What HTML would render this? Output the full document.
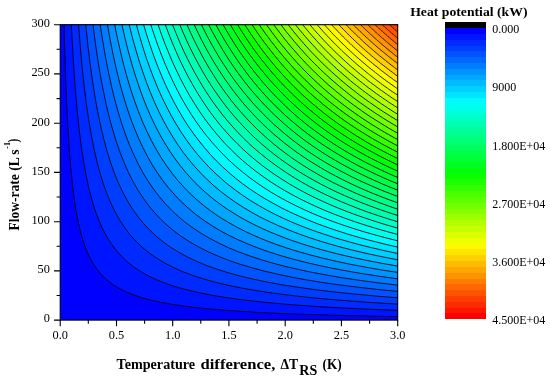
<!DOCTYPE html>
<html lang="en"><head><meta charset="utf-8"><title>Heat potential contour</title>
<style>html,body{margin:0;padding:0;background:#fff}svg{display:block}text{font-family:"Liberation Serif",serif;fill:#000}.b{font-weight:bold;fill:#000}</style></head><body>
<svg width="550" height="382" viewBox="0 0 550 382">
<rect width="550" height="382" fill="#fff"/>
<rect x="60.2" y="24.7" width="337.5" height="295.4" fill="#0000ff"/>
<g stroke="none">
<path d="M64.1,24.7 64.9,55.0 65.8,82.2 66.8,106.6 68.0,128.6 69.2,148.4 70.6,166.1 72.2,182.0 73.9,196.3 75.8,209.2 78.0,220.8 80.3,231.1 83.0,240.5 85.9,248.9 89.2,256.4 92.9,263.2 96.9,269.2 101.5,274.7 106.5,279.6 112.1,284.0 118.4,288.0 125.3,291.5 133.0,294.7 141.6,297.6 151.2,300.2 161.9,302.5 173.7,304.6 186.9,306.5 201.6,308.2 218.0,309.7 236.2,311.0 256.4,312.3 279.0,313.4 304.1,314.3 332.0,315.2 363.1,316.0 397.7,316.7 397.7,24.7 Z" fill="#0015ff"/>
<path d="M71.3,24.7 72.7,49.8 74.1,72.7 75.7,93.8 77.4,113.0 79.3,130.7 81.4,146.9 83.6,161.7 86.1,175.2 88.7,187.7 91.7,199.0 94.8,209.5 98.3,219.0 102.1,227.8 106.3,235.8 110.8,243.1 115.8,249.8 121.2,256.0 127.1,261.6 133.5,266.8 140.5,271.5 148.2,275.8 156.6,279.8 165.7,283.4 175.7,286.8 186.6,289.8 198.6,292.6 211.5,295.2 225.7,297.5 241.2,299.7 258.1,301.6 276.6,303.4 296.8,305.1 318.8,306.6 342.8,308.0 369.1,309.2 397.7,310.4 397.7,24.7 Z" fill="#002aff"/>
<path d="M78.6,24.7 80.3,46.7 82.1,67.0 84.2,85.9 86.3,103.4 88.7,119.6 91.2,134.5 93.9,148.4 96.9,161.3 100.1,173.2 103.5,184.3 107.2,194.5 111.2,203.9 115.5,212.7 120.2,220.9 125.2,228.4 130.6,235.4 136.5,241.8 142.8,247.8 149.7,253.3 157.1,258.5 165.0,263.2 173.6,267.6 182.9,271.7 192.9,275.5 203.8,279.0 215.4,282.3 228.1,285.3 241.7,288.0 256.4,290.6 272.2,293.0 289.3,295.2 307.8,297.3 327.8,299.2 349.3,300.9 372.6,302.6 397.7,304.1 397.7,24.7 Z" fill="#003eff"/>
<path d="M85.8,24.7 87.8,44.5 90.0,62.9 92.4,80.1 94.9,96.2 97.6,111.3 100.5,125.3 103.6,138.4 106.9,150.6 110.4,162.0 114.2,172.7 118.3,182.7 122.7,192.0 127.3,200.6 132.3,208.8 137.7,216.3 143.4,223.4 149.6,230.0 156.1,236.2 163.2,241.9 170.7,247.3 178.8,252.3 187.5,257.0 196.7,261.4 206.6,265.5 217.3,269.3 228.6,272.8 240.8,276.2 253.9,279.3 267.8,282.2 282.8,284.9 298.8,287.4 316.0,289.8 334.4,292.0 354.0,294.0 375.1,296.0 397.7,297.8 397.7,24.7 Z" fill="#0053ff"/>
<path d="M93.0,24.7 95.3,42.7 97.8,59.7 100.4,75.6 103.3,90.5 106.2,104.6 109.4,117.8 112.8,130.2 116.4,141.8 120.2,152.8 124.3,163.1 128.6,172.8 133.2,181.8 138.1,190.4 143.4,198.4 148.9,205.9 154.9,213.0 161.2,219.7 167.9,225.9 175.0,231.8 182.6,237.3 190.7,242.5 199.3,247.3 208.4,251.9 218.2,256.2 228.6,260.3 239.6,264.1 251.4,267.6 263.9,271.0 277.2,274.1 291.4,277.1 306.4,279.9 322.5,282.5 339.6,284.9 357.8,287.2 377.1,289.4 397.7,291.4 397.7,24.7 Z" fill="#0068ff"/>
<path d="M100.2,24.7 102.8,41.3 105.5,57.0 108.4,71.8 111.4,85.8 114.6,99.0 118.0,111.5 121.6,123.2 125.4,134.4 129.5,144.9 133.8,154.8 138.3,164.1 143.1,173.0 148.2,181.3 153.6,189.2 159.3,196.7 165.3,203.7 171.7,210.4 178.5,216.6 185.6,222.6 193.2,228.1 201.2,233.4 209.8,238.4 218.8,243.1 228.3,247.6 238.4,251.8 249.1,255.7 260.4,259.5 272.4,263.0 285.1,266.4 298.6,269.5 312.8,272.5 327.9,275.3 343.9,278.0 360.8,280.5 378.7,282.9 397.7,285.1 397.7,24.7 Z" fill="#007dff"/>
<path d="M107.5,24.7 110.2,40.1 113.1,54.7 116.2,68.5 119.4,81.7 122.8,94.1 126.4,106.0 130.2,117.2 134.2,127.8 138.4,137.9 142.8,147.4 147.5,156.5 152.4,165.1 157.6,173.2 163.1,181.0 168.9,188.3 175.0,195.2 181.4,201.8 188.2,208.1 195.3,214.0 202.9,219.7 210.8,225.0 219.2,230.1 228.0,234.9 237.3,239.4 247.2,243.7 257.5,247.8 268.4,251.7 279.9,255.4 292.1,258.9 304.9,262.2 318.4,265.3 332.6,268.3 347.6,271.1 363.4,273.8 380.1,276.4 397.7,278.8 397.7,24.7 Z" fill="#0092ff"/>
<path d="M114.7,24.7 117.6,39.0 120.7,52.7 123.9,65.7 127.3,78.1 130.9,89.9 134.6,101.1 138.5,111.7 142.6,121.9 147.0,131.6 151.5,140.8 156.3,149.5 161.3,157.9 166.6,165.8 172.2,173.4 178.0,180.6 184.1,187.4 190.5,194.0 197.3,200.2 204.4,206.1 211.8,211.7 219.6,217.1 227.9,222.1 236.5,227.0 245.6,231.6 255.1,236.0 265.1,240.2 275.6,244.2 286.7,248.0 298.3,251.6 310.5,255.0 323.3,258.3 336.7,261.4 350.9,264.4 365.7,267.2 381.3,269.9 397.7,272.4 397.7,24.7 Z" fill="#00a7ff"/>
<path d="M121.9,24.7 125.0,38.1 128.2,50.9 131.6,63.2 135.1,74.8 138.8,86.0 142.6,96.7 146.6,106.8 150.9,116.6 155.3,125.8 159.9,134.7 164.8,143.2 169.9,151.3 175.2,159.0 180.8,166.4 186.6,173.4 192.7,180.1 199.1,186.6 205.8,192.7 212.8,198.6 220.1,204.2 227.8,209.5 235.9,214.6 244.3,219.5 253.1,224.1 262.4,228.6 272.0,232.8 282.2,236.9 292.8,240.8 303.9,244.5 315.5,248.0 327.7,251.4 340.4,254.6 353.8,257.7 367.7,260.6 382.4,263.4 397.7,266.1 397.7,24.7 Z" fill="#00bbff"/>
<path d="M129.2,24.7 132.3,37.3 135.7,49.3 139.1,60.9 142.8,71.9 146.5,82.5 150.5,92.7 154.6,102.4 158.9,111.7 163.4,120.6 168.1,129.1 173.0,137.3 178.1,145.1 183.4,152.6 189.0,159.8 194.8,166.7 200.9,173.3 207.2,179.6 213.8,185.7 220.7,191.4 228.0,197.0 235.5,202.3 243.4,207.4 251.6,212.3 260.1,217.0 269.1,221.4 278.4,225.7 288.2,229.8 298.3,233.7 309.0,237.5 320.1,241.1 331.7,244.6 343.8,247.9 356.4,251.1 369.6,254.1 383.3,257.0 397.7,259.8 397.7,24.7 Z" fill="#00d0ff"/>
<path d="M136.4,24.7 139.7,36.5 143.1,47.9 146.6,58.8 150.3,69.2 154.2,79.3 158.2,89.0 162.4,98.2 166.8,107.1 171.3,115.7 176.0,123.9 180.9,131.8 186.0,139.4 191.4,146.7 196.9,153.7 202.7,160.4 208.7,166.8 215.0,173.0 221.5,178.9 228.3,184.7 235.4,190.1 242.7,195.4 250.4,200.5 258.4,205.3 266.7,210.0 275.3,214.5 284.4,218.8 293.7,222.9 303.5,226.9 313.7,230.7 324.3,234.3 335.3,237.9 346.8,241.2 358.8,244.5 371.2,247.6 384.2,250.6 397.7,253.5 397.7,24.7 Z" fill="#00e5ff"/>
<path d="M143.6,24.7 147.0,35.8 150.5,46.5 154.1,56.9 157.9,66.8 161.8,76.3 165.8,85.5 170.1,94.4 174.4,102.9 179.0,111.1 183.7,119.0 188.6,126.7 193.8,134.0 199.1,141.0 204.6,147.8 210.3,154.4 216.2,160.7 222.4,166.7 228.8,172.5 235.5,178.2 242.4,183.6 249.6,188.8 257.1,193.8 264.8,198.6 272.9,203.2 281.2,207.7 289.9,212.0 299.0,216.1 308.3,220.1 318.1,224.0 328.2,227.7 338.7,231.2 349.6,234.7 361.0,238.0 372.8,241.1 385.0,244.2 397.7,247.1 397.7,24.7 Z" fill="#00faff"/>
<path d="M150.8,24.7 154.3,35.2 157.8,45.3 161.5,55.1 165.3,64.5 169.3,73.6 173.4,82.4 177.6,90.8 182.0,99.0 186.6,106.9 191.3,114.5 196.2,121.8 201.3,128.9 206.5,135.7 212.0,142.3 217.6,148.6 223.5,154.8 229.5,160.7 235.8,166.4 242.4,171.9 249.1,177.2 256.1,182.3 263.4,187.3 270.9,192.1 278.7,196.7 286.8,201.1 295.2,205.4 303.8,209.5 312.8,213.5 322.2,217.4 331.8,221.1 341.9,224.7 352.2,228.1 363.0,231.5 374.2,234.7 385.7,237.8 397.7,240.8 397.7,24.7 Z" fill="#00ffef"/>
<path d="M158.1,24.7 161.5,34.6 165.1,44.2 168.9,53.4 172.7,62.4 176.7,71.0 180.8,79.4 185.0,87.4 189.4,95.3 194.0,102.8 198.7,110.1 203.5,117.2 208.6,124.0 213.8,130.6 219.2,137.0 224.7,143.2 230.5,149.1 236.4,154.9 242.6,160.5 249.0,165.9 255.6,171.1 262.4,176.1 269.4,181.0 276.7,185.7 284.3,190.3 292.1,194.7 300.1,198.9 308.5,203.0 317.1,207.0 326.0,210.9 335.3,214.6 344.8,218.2 354.7,221.7 364.9,225.0 375.5,228.3 386.4,231.4 397.7,234.5 397.7,24.7 Z" fill="#00ffdb"/>
<path d="M165.3,24.7 168.8,34.0 172.4,43.1 176.2,51.9 180.0,60.4 184.0,68.6 188.1,76.5 192.4,84.3 196.7,91.7 201.3,99.0 205.9,106.0 210.7,112.8 215.7,119.4 220.8,125.8 226.1,131.9 231.6,137.9 237.3,143.7 243.1,149.3 249.1,154.8 255.3,160.0 261.7,165.1 268.4,170.1 275.2,174.9 282.3,179.5 289.5,184.0 297.1,188.4 304.8,192.6 312.8,196.7 321.1,200.6 329.7,204.5 338.5,208.2 347.6,211.8 357.0,215.3 366.7,218.6 376.7,221.9 387.0,225.1 397.7,228.1 397.7,24.7 Z" fill="#00ffc6"/>
<path d="M172.5,24.7 176.1,33.5 179.7,42.1 183.4,50.4 187.3,58.5 191.3,66.3 195.4,73.9 199.6,81.2 203.9,88.4 208.4,95.3 213.0,102.1 217.8,108.6 222.7,115.0 227.7,121.1 233.0,127.1 238.3,132.9 243.8,138.5 249.5,144.0 255.4,149.3 261.5,154.4 267.7,159.4 274.1,164.2 280.8,168.9 287.6,173.5 294.6,177.9 301.8,182.2 309.3,186.4 317.0,190.4 324.9,194.3 333.1,198.1 341.5,201.8 350.2,205.4 359.1,208.9 368.3,212.3 377.8,215.5 387.6,218.7 397.7,221.8 397.7,24.7 Z" fill="#00ffb1"/>
<path d="M179.8,24.7 183.3,33.0 186.9,41.1 190.7,49.0 194.5,56.7 198.5,64.1 202.5,71.3 206.7,78.4 211.0,85.2 215.5,91.9 220.0,98.3 224.7,104.6 229.5,110.7 234.5,116.6 239.6,122.4 244.9,128.0 250.3,133.5 255.8,138.8 261.5,143.9 267.4,148.9 273.5,153.8 279.7,158.5 286.1,163.1 292.7,167.6 299.5,171.9 306.4,176.1 313.6,180.2 321.0,184.2 328.6,188.1 336.4,191.9 344.4,195.5 352.7,199.1 361.2,202.6 369.9,205.9 378.9,209.2 388.2,212.4 397.7,215.5 397.7,24.7 Z" fill="#00ff9c"/>
<path d="M187.0,24.7 190.5,32.6 194.1,40.2 197.9,47.7 201.7,55.0 205.6,62.0 209.6,68.9 213.8,75.6 218.0,82.2 222.4,88.5 226.9,94.7 231.5,100.8 236.2,106.6 241.1,112.3 246.1,117.9 251.2,123.3 256.5,128.6 261.9,133.7 267.5,138.7 273.2,143.6 279.0,148.3 285.1,152.9 291.2,157.4 297.6,161.8 304.1,166.0 310.8,170.2 317.7,174.2 324.8,178.2 332.0,182.0 339.5,185.7 347.2,189.3 355.0,192.9 363.1,196.3 371.4,199.6 379.9,202.9 388.7,206.1 397.7,209.2 397.7,24.7 Z" fill="#00ff87"/>
<path d="M194.2,24.7 197.7,32.1 201.3,39.4 205.0,46.5 208.8,53.4 212.7,60.1 216.7,66.6 220.8,73.0 225.0,79.3 229.3,85.3 233.7,91.3 238.2,97.0 242.8,102.7 247.6,108.2 252.5,113.5 257.5,118.8 262.6,123.9 267.8,128.8 273.2,133.7 278.8,138.4 284.4,143.0 290.3,147.5 296.2,151.9 302.3,156.1 308.6,160.3 315.1,164.3 321.7,168.3 328.4,172.2 335.4,175.9 342.5,179.6 349.8,183.2 357.3,186.7 365.0,190.1 372.8,193.4 380.9,196.6 389.2,199.8 397.7,202.8 397.7,24.7 Z" fill="#00ff72"/>
<path d="M201.4,24.7 204.9,31.7 208.5,38.6 212.2,45.3 215.9,51.8 219.7,58.2 223.7,64.4 227.7,70.5 231.8,76.5 236.0,82.3 240.3,87.9 244.8,93.5 249.3,98.9 253.9,104.2 258.7,109.3 263.5,114.3 268.5,119.3 273.6,124.1 278.9,128.7 284.2,133.3 289.7,137.8 295.3,142.1 301.0,146.4 306.9,150.6 313.0,154.6 319.1,158.6 325.5,162.5 331.9,166.2 338.6,169.9 345.4,173.5 352.3,177.1 359.4,180.5 366.7,183.8 374.2,187.1 381.8,190.3 389.7,193.4 397.7,196.5 397.7,24.7 Z" fill="#00ff5e"/>
<path d="M208.7,24.7 212.1,31.3 215.7,37.8 219.3,44.1 223.0,50.3 226.7,56.4 230.6,62.3 234.5,68.1 238.6,73.8 242.7,79.3 246.9,84.7 251.2,90.0 255.7,95.2 260.2,100.3 264.8,105.2 269.5,110.1 274.3,114.8 279.3,119.4 284.3,123.9 289.5,128.4 294.8,132.7 300.2,136.9 305.7,141.1 311.4,145.1 317.2,149.1 323.1,152.9 329.1,156.7 335.3,160.4 341.6,164.0 348.1,167.5 354.7,171.0 361.5,174.4 368.4,177.7 375.5,180.9 382.7,184.1 390.1,187.2 397.7,190.2 397.7,24.7 Z" fill="#00ff49"/>
<path d="M215.9,24.7 219.3,31.0 222.8,37.1 226.3,43.1 230.0,48.9 233.7,54.7 237.5,60.3 241.3,65.8 245.3,71.2 249.3,76.5 253.4,81.6 257.6,86.7 261.9,91.6 266.3,96.5 270.8,101.2 275.4,105.9 280.0,110.4 284.8,114.9 289.7,119.3 294.7,123.5 299.8,127.7 305.0,131.8 310.3,135.8 315.7,139.7 321.2,143.6 326.9,147.3 332.7,151.0 338.6,154.6 344.6,158.1 350.7,161.6 357.0,165.0 363.5,168.3 370.0,171.5 376.7,174.7 383.6,177.8 390.6,180.9 397.7,183.8 397.7,24.7 Z" fill="#00ff34"/>
<path d="M223.1,24.7 226.5,30.6 229.9,36.4 233.4,42.0 236.9,47.6 240.6,53.0 244.3,58.3 248.0,63.6 251.9,68.7 255.8,73.7 259.8,78.6 263.9,83.5 268.1,88.2 272.3,92.8 276.7,97.4 281.1,101.8 285.6,106.2 290.2,110.5 294.9,114.7 299.7,118.8 304.6,122.8 309.6,126.8 314.7,130.6 319.9,134.4 325.2,138.2 330.6,141.8 336.1,145.4 341.7,148.9 347.4,152.3 353.3,155.7 359.3,159.0 365.4,162.3 371.6,165.4 377.9,168.5 384.4,171.6 391.0,174.6 397.7,177.5 397.7,24.7 Z" fill="#00ff1f"/>
<path d="M230.4,24.7 233.6,30.2 237.0,35.7 240.4,41.0 243.9,46.3 247.4,51.4 251.0,56.5 254.7,61.4 258.5,66.3 262.3,71.0 266.2,75.7 270.1,80.3 274.2,84.8 278.3,89.3 282.5,93.6 286.7,97.9 291.1,102.1 295.5,106.2 300.0,110.2 304.6,114.1 309.3,118.0 314.1,121.8 319.0,125.6 323.9,129.2 329.0,132.8 334.2,136.4 339.4,139.9 344.8,143.3 350.2,146.6 355.8,149.9 361.4,153.1 367.2,156.3 373.1,159.4 379.1,162.4 385.2,165.4 391.4,168.3 397.7,171.2 397.7,24.7 Z" fill="#00ff0a"/>
<path d="M237.6,24.7 240.8,29.9 244.1,35.0 247.4,40.1 250.8,45.0 254.2,49.9 257.7,54.6 261.3,59.3 265.0,63.9 268.7,68.5 272.4,72.9 276.3,77.3 280.2,81.6 284.1,85.8 288.2,89.9 292.3,94.0 296.5,98.0 300.7,101.9 305.1,105.8 309.5,109.6 314.0,113.3 318.5,117.0 323.2,120.6 327.9,124.1 332.7,127.6 337.6,131.0 342.6,134.4 347.7,137.7 352.9,140.9 358.1,144.1 363.5,147.2 369.0,150.3 374.5,153.3 380.1,156.3 385.9,159.2 391.7,162.0 397.7,164.9 397.7,24.7 Z" fill="#0aff00"/>
<path d="M244.8,24.7 248.0,29.6 251.1,34.4 254.4,39.1 257.7,43.8 261.0,48.4 264.4,52.9 267.9,57.3 271.4,61.7 275.0,66.0 278.6,70.2 282.3,74.3 286.1,78.4 289.9,82.4 293.8,86.4 297.7,90.2 301.7,94.1 305.8,97.8 310.0,101.5 314.2,105.1 318.5,108.7 322.8,112.2 327.3,115.7 331.8,119.1 336.4,122.4 341.0,125.7 345.8,128.9 350.6,132.1 355.5,135.3 360.5,138.3 365.5,141.4 370.7,144.4 375.9,147.3 381.2,150.2 386.6,153.0 392.1,155.8 397.7,158.5 397.7,24.7 Z" fill="#1fff00"/>
<path d="M252.1,24.7 255.1,29.3 258.2,33.8 261.3,38.2 264.5,42.6 267.8,46.9 271.1,51.2 274.4,55.3 277.8,59.5 281.2,63.5 284.7,67.5 288.3,71.4 291.9,75.3 295.6,79.1 299.3,82.9 303.1,86.5 306.9,90.2 310.8,93.8 314.8,97.3 318.8,100.7 322.9,104.2 327.1,107.5 331.3,110.8 335.6,114.1 339.9,117.3 344.3,120.5 348.8,123.6 353.4,126.7 358.0,129.7 362.7,132.6 367.5,135.6 372.3,138.4 377.2,141.3 382.2,144.1 387.3,146.8 392.5,149.5 397.7,152.2 397.7,24.7 Z" fill="#34ff00"/>
<path d="M259.3,24.7 262.2,29.0 265.2,33.2 268.3,37.4 271.3,41.5 274.5,45.5 277.6,49.5 280.9,53.5 284.1,57.3 287.4,61.1 290.8,64.9 294.2,68.6 297.7,72.3 301.2,75.9 304.7,79.4 308.4,82.9 312.0,86.4 315.7,89.8 319.5,93.1 323.4,96.4 327.2,99.7 331.2,102.9 335.2,106.1 339.2,109.2 343.4,112.3 347.5,115.3 351.8,118.3 356.1,121.2 360.4,124.1 364.9,127.0 369.3,129.8 373.9,132.6 378.5,135.3 383.2,138.0 388.0,140.7 392.8,143.3 397.7,145.9 397.7,24.7 Z" fill="#49ff00"/>
<path d="M266.5,24.7 269.4,28.7 272.2,32.6 275.2,36.5 278.1,40.4 281.1,44.2 284.2,47.9 287.3,51.6 290.4,55.2 293.6,58.8 296.8,62.4 300.1,65.9 303.4,69.3 306.7,72.7 310.1,76.1 313.6,79.4 317.1,82.7 320.6,85.9 324.2,89.1 327.8,92.2 331.5,95.3 335.2,98.4 339.0,101.4 342.8,104.3 346.7,107.3 350.7,110.2 354.7,113.0 358.7,115.8 362.8,118.6 367.0,121.4 371.2,124.1 375.5,126.7 379.8,129.4 384.2,132.0 388.6,134.5 393.1,137.1 397.7,139.5 397.7,24.7 Z" fill="#5eff00"/>
<path d="M273.7,24.7 276.5,28.4 279.3,32.1 282.1,35.7 284.9,39.3 287.8,42.9 290.7,46.4 293.7,49.8 296.7,53.2 299.7,56.6 302.8,59.9 305.9,63.2 309.0,66.4 312.2,69.6 315.4,72.8 318.7,75.9 322.0,79.0 325.4,82.1 328.7,85.1 332.2,88.0 335.7,91.0 339.2,93.9 342.7,96.7 346.4,99.6 350.0,102.3 353.7,105.1 357.5,107.8 361.3,110.5 365.1,113.2 369.0,115.8 373.0,118.4 377.0,120.9 381.0,123.4 385.1,125.9 389.2,128.4 393.4,130.8 397.7,133.2 397.7,24.7 Z" fill="#72ff00"/>
<path d="M281.0,24.7 283.6,28.2 286.2,31.6 288.9,34.9 291.7,38.3 294.4,41.6 297.2,44.8 300.0,48.1 302.9,51.2 305.7,54.4 308.6,57.5 311.6,60.6 314.6,63.6 317.6,66.6 320.7,69.6 323.7,72.5 326.9,75.4 330.0,78.3 333.2,81.1 336.5,83.9 339.8,86.7 343.1,89.4 346.4,92.1 349.8,94.8 353.2,97.5 356.7,100.1 360.2,102.7 363.8,105.2 367.4,107.7 371.0,110.2 374.7,112.7 378.4,115.1 382.2,117.5 386.0,119.9 389.9,122.3 393.8,124.6 397.7,126.9 397.7,24.7 Z" fill="#87ff00"/>
<path d="M288.2,24.7 290.7,27.9 293.2,31.1 295.8,34.2 298.4,37.3 301.0,40.3 303.6,43.4 306.3,46.4 309.0,49.3 311.7,52.3 314.5,55.2 317.3,58.0 320.1,60.9 322.9,63.7 325.8,66.4 328.7,69.2 331.7,71.9 334.7,74.6 337.7,77.3 340.7,79.9 343.8,82.5 346.9,85.1 350.0,87.6 353.2,90.1 356.4,92.6 359.6,95.1 362.9,97.5 366.2,100.0 369.6,102.3 373.0,104.7 376.4,107.0 379.8,109.4 383.3,111.7 386.9,113.9 390.4,116.2 394.1,118.4 397.7,120.6 397.7,24.7 Z" fill="#9cff00"/>
<path d="M295.4,24.7 297.8,27.6 300.2,30.6 302.6,33.4 305.1,36.3 307.5,39.1 310.0,41.9 312.6,44.7 315.1,47.4 317.7,50.2 320.3,52.9 322.9,55.5 325.6,58.2 328.2,60.8 330.9,63.4 333.7,65.9 336.4,68.5 339.2,71.0 342.0,73.4 344.9,75.9 347.7,78.3 350.6,80.8 353.5,83.2 356.5,85.5 359.5,87.9 362.5,90.2 365.5,92.5 368.6,94.7 371.7,97.0 374.9,99.2 378.0,101.4 381.2,103.6 384.5,105.8 387.7,107.9 391.0,110.1 394.3,112.2 397.7,114.2 397.7,24.7 Z" fill="#b1ff00"/>
<path d="M302.7,24.7 304.9,27.4 307.2,30.1 309.4,32.7 311.7,35.3 314.1,37.9 316.4,40.5 318.8,43.1 321.2,45.6 323.6,48.1 326.0,50.6 328.5,53.1 331.0,55.5 333.5,57.9 336.0,60.3 338.5,62.7 341.1,65.1 343.7,67.4 346.3,69.7 348.9,72.0 351.6,74.3 354.3,76.5 357.0,78.7 359.7,80.9 362.5,83.1 365.3,85.3 368.1,87.5 371.0,89.6 373.8,91.7 376.7,93.8 379.6,95.9 382.6,97.9 385.5,99.9 388.5,102.0 391.6,104.0 394.6,105.9 397.7,107.9 397.7,24.7 Z" fill="#c6ff00"/>
<path d="M309.9,24.7 312.0,27.2 314.1,29.6 316.2,32.0 318.4,34.4 320.6,36.8 322.8,39.2 325.0,41.5 327.2,43.8 329.4,46.1 331.7,48.4 334.0,50.7 336.3,52.9 338.6,55.1 341.0,57.3 343.3,59.5 345.7,61.7 348.1,63.9 350.5,66.0 353.0,68.1 355.4,70.2 357.9,72.3 360.4,74.4 362.9,76.4 365.5,78.4 368.0,80.5 370.6,82.5 373.2,84.4 375.9,86.4 378.5,88.4 381.2,90.3 383.9,92.2 386.6,94.1 389.3,96.0 392.1,97.9 394.9,99.7 397.7,101.6 397.7,24.7 Z" fill="#dbff00"/>
<path d="M317.1,24.7 319.1,26.9 321.0,29.1 323.0,31.3 325.0,33.5 327.0,35.7 329.1,37.8 331.1,39.9 333.2,42.1 335.3,44.2 337.4,46.2 339.5,48.3 341.6,50.4 343.7,52.4 345.9,54.4 348.1,56.4 350.3,58.4 352.5,60.4 354.7,62.3 356.9,64.3 359.2,66.2 361.5,68.1 363.8,70.0 366.1,71.9 368.4,73.8 370.7,75.7 373.1,77.5 375.5,79.4 377.9,81.2 380.3,83.0 382.7,84.8 385.2,86.6 387.6,88.3 390.1,90.1 392.6,91.8 395.2,93.5 397.7,95.2 397.7,24.7 Z" fill="#efff00"/>
<path d="M324.3,24.7 326.1,26.7 328.0,28.7 329.8,30.7 331.6,32.6 333.5,34.6 335.4,36.5 337.2,38.4 339.1,40.3 341.0,42.2 343.0,44.1 344.9,46.0 346.8,47.9 348.8,49.7 350.8,51.5 352.8,53.4 354.8,55.2 356.8,57.0 358.8,58.8 360.8,60.5 362.9,62.3 365.0,64.0 367.0,65.8 369.1,67.5 371.2,69.2 373.4,70.9 375.5,72.6 377.7,74.3 379.8,76.0 382.0,77.6 384.2,79.3 386.4,80.9 388.6,82.5 390.9,84.1 393.1,85.7 395.4,87.3 397.7,88.9 397.7,24.7 Z" fill="#fffa00"/>
<path d="M331.6,24.7 333.2,26.5 334.9,28.3 336.6,30.0 338.2,31.8 339.9,33.5 341.6,35.2 343.3,37.0 345.1,38.7 346.8,40.4 348.5,42.1 350.3,43.7 352.0,45.4 353.8,47.1 355.6,48.7 357.4,50.3 359.2,52.0 361.0,53.6 362.9,55.2 364.7,56.8 366.5,58.4 368.4,60.0 370.3,61.5 372.2,63.1 374.1,64.7 376.0,66.2 377.9,67.7 379.8,69.3 381.7,70.8 383.7,72.3 385.7,73.8 387.6,75.3 389.6,76.8 391.6,78.2 393.6,79.7 395.7,81.1 397.7,82.6 397.7,24.7 Z" fill="#ffe500"/>
<path d="M338.8,24.7 340.3,26.3 341.8,27.8 343.3,29.4 344.8,30.9 346.3,32.5 347.9,34.0 349.4,35.5 350.9,37.0 352.5,38.5 354.1,40.0 355.6,41.5 357.2,43.0 358.8,44.5 360.4,45.9 362.0,47.4 363.6,48.8 365.2,50.3 366.9,51.7 368.5,53.1 370.1,54.5 371.8,56.0 373.5,57.4 375.1,58.8 376.8,60.2 378.5,61.5 380.2,62.9 381.9,64.3 383.6,65.6 385.4,67.0 387.1,68.3 388.8,69.7 390.6,71.0 392.4,72.3 394.1,73.6 395.9,75.0 397.7,76.3 397.7,24.7 Z" fill="#ffd000"/>
<path d="M346.0,24.7 347.3,26.1 348.7,27.4 350.0,28.8 351.4,30.1 352.7,31.4 354.1,32.8 355.4,34.1 356.8,35.4 358.2,36.7 359.5,38.0 360.9,39.3 362.3,40.6 363.7,41.9 365.1,43.2 366.5,44.5 367.9,45.7 369.4,47.0 370.8,48.2 372.2,49.5 373.7,50.7 375.1,52.0 376.6,53.2 378.1,54.5 379.5,55.7 381.0,56.9 382.5,58.1 384.0,59.3 385.5,60.5 387.0,61.7 388.5,62.9 390.0,64.1 391.5,65.3 393.1,66.4 394.6,67.6 396.1,68.8 397.7,69.9 397.7,24.7 Z" fill="#ffbb00"/>
<path d="M353.3,24.7 354.4,25.9 355.6,27.0 356.7,28.2 357.9,29.3 359.1,30.4 360.2,31.6 361.4,32.7 362.6,33.8 363.8,34.9 365.0,36.1 366.2,37.2 367.4,38.3 368.6,39.4 369.8,40.5 371.0,41.6 372.2,42.7 373.5,43.8 374.7,44.8 375.9,45.9 377.2,47.0 378.4,48.1 379.7,49.1 380.9,50.2 382.2,51.2 383.5,52.3 384.7,53.3 386.0,54.4 387.3,55.4 388.6,56.5 389.9,57.5 391.1,58.5 392.4,59.5 393.8,60.6 395.1,61.6 396.4,62.6 397.7,63.6 397.7,24.7 Z" fill="#ffa700"/>
<path d="M360.5,24.7 361.5,25.7 362.4,26.6 363.4,27.6 364.4,28.5 365.4,29.5 366.4,30.4 367.4,31.3 368.4,32.3 369.4,33.2 370.4,34.1 371.4,35.1 372.4,36.0 373.4,36.9 374.4,37.8 375.5,38.7 376.5,39.6 377.5,40.6 378.6,41.5 379.6,42.4 380.6,43.3 381.7,44.2 382.7,45.1 383.8,45.9 384.8,46.8 385.9,47.7 386.9,48.6 388.0,49.5 389.1,50.4 390.1,51.2 391.2,52.1 392.3,53.0 393.3,53.8 394.4,54.7 395.5,55.6 396.6,56.4 397.7,57.3 397.7,24.7 Z" fill="#ff9200"/>
<path d="M367.7,24.7 368.5,25.5 369.3,26.2 370.1,27.0 370.9,27.7 371.7,28.5 372.5,29.2 373.3,30.0 374.1,30.7 375.0,31.5 375.8,32.2 376.6,33.0 377.4,33.7 378.2,34.5 379.0,35.2 379.9,35.9 380.7,36.7 381.5,37.4 382.4,38.1 383.2,38.9 384.0,39.6 384.9,40.3 385.7,41.0 386.6,41.7 387.4,42.5 388.2,43.2 389.1,43.9 389.9,44.6 390.8,45.3 391.7,46.0 392.5,46.7 393.4,47.4 394.2,48.2 395.1,48.9 396.0,49.6 396.8,50.3 397.7,51.0 397.7,24.7 Z" fill="#ff7d00"/>
<path d="M374.9,24.7 375.6,25.3 376.2,25.8 376.8,26.4 377.4,27.0 378.0,27.6 378.6,28.1 379.2,28.7 379.9,29.2 380.5,29.8 381.1,30.4 381.7,30.9 382.4,31.5 383.0,32.1 383.6,32.6 384.2,33.2 384.9,33.7 385.5,34.3 386.1,34.8 386.8,35.4 387.4,35.9 388.0,36.5 388.7,37.0 389.3,37.6 389.9,38.1 390.6,38.7 391.2,39.2 391.9,39.8 392.5,40.3 393.2,40.9 393.8,41.4 394.4,41.9 395.1,42.5 395.7,43.0 396.4,43.6 397.0,44.1 397.7,44.6 397.7,24.7 Z" fill="#ff6800"/>
<path d="M382.2,24.7 382.6,25.1 383.0,25.5 383.4,25.9 383.9,26.2 384.3,26.6 384.7,27.0 385.1,27.4 385.6,27.8 386.0,28.2 386.4,28.5 386.8,28.9 387.3,29.3 387.7,29.7 388.1,30.1 388.6,30.4 389.0,30.8 389.4,31.2 389.8,31.6 390.3,32.0 390.7,32.3 391.1,32.7 391.6,33.1 392.0,33.5 392.4,33.8 392.9,34.2 393.3,34.6 393.7,35.0 394.2,35.3 394.6,35.7 395.1,36.1 395.5,36.4 395.9,36.8 396.4,37.2 396.8,37.6 397.3,37.9 397.7,38.3 397.7,24.7 Z" fill="#ff5300"/>
<path d="M389.4,24.7 389.6,24.9 389.9,25.1 390.1,25.3 390.3,25.5 390.5,25.7 390.8,25.9 391.0,26.1 391.2,26.3 391.5,26.5 391.7,26.7 391.9,26.9 392.1,27.1 392.4,27.3 392.6,27.5 392.8,27.7 393.1,28.0 393.3,28.2 393.5,28.4 393.8,28.6 394.0,28.8 394.2,29.0 394.4,29.2 394.7,29.4 394.9,29.6 395.1,29.8 395.4,30.0 395.6,30.2 395.8,30.4 396.1,30.6 396.3,30.8 396.5,31.0 396.8,31.2 397.0,31.4 397.2,31.6 397.5,31.8 397.7,32.0 397.7,24.7 Z" fill="#ff3e00"/>
<path d="M396.6,24.7 396.7,24.7 396.7,24.8 396.7,24.8 396.7,24.8 396.8,24.8 396.8,24.9 396.8,24.9 396.9,24.9 396.9,24.9 396.9,25.0 397.0,25.0 397.0,25.0 397.0,25.0 397.0,25.1 397.1,25.1 397.1,25.1 397.1,25.1 397.2,25.2 397.2,25.2 397.2,25.2 397.3,25.2 397.3,25.3 397.3,25.3 397.3,25.3 397.4,25.4 397.4,25.4 397.4,25.4 397.5,25.4 397.5,25.5 397.5,25.5 397.6,25.5 397.6,25.5 397.6,25.6 397.6,25.6 397.7,25.6 397.7,25.6 397.7,24.7 Z" fill="#ff2a00"/>
</g>
<path d="M64.1,24.7 64.9,55.0 65.8,82.2 66.8,106.6 68.0,128.6 69.2,148.4 70.6,166.1 72.2,182.0 73.9,196.3 75.8,209.2 78.0,220.8 80.3,231.1 83.0,240.5 85.9,248.9 89.2,256.4 92.9,263.2 96.9,269.2 101.5,274.7 106.5,279.6 112.1,284.0 118.4,288.0 125.3,291.5 133.0,294.7 141.6,297.6 151.2,300.2 161.9,302.5 173.7,304.6 186.9,306.5 201.6,308.2 218.0,309.7 236.2,311.0 256.4,312.3 279.0,313.4 304.1,314.3 332.0,315.2 363.1,316.0 397.7,316.7M71.3,24.7 72.7,49.8 74.1,72.7 75.7,93.8 77.4,113.0 79.3,130.7 81.4,146.9 83.6,161.7 86.1,175.2 88.7,187.7 91.7,199.0 94.8,209.5 98.3,219.0 102.1,227.8 106.3,235.8 110.8,243.1 115.8,249.8 121.2,256.0 127.1,261.6 133.5,266.8 140.5,271.5 148.2,275.8 156.6,279.8 165.7,283.4 175.7,286.8 186.6,289.8 198.6,292.6 211.5,295.2 225.7,297.5 241.2,299.7 258.1,301.6 276.6,303.4 296.8,305.1 318.8,306.6 342.8,308.0 369.1,309.2 397.7,310.4M78.6,24.7 80.3,46.7 82.1,67.0 84.2,85.9 86.3,103.4 88.7,119.6 91.2,134.5 93.9,148.4 96.9,161.3 100.1,173.2 103.5,184.3 107.2,194.5 111.2,203.9 115.5,212.7 120.2,220.9 125.2,228.4 130.6,235.4 136.5,241.8 142.8,247.8 149.7,253.3 157.1,258.5 165.0,263.2 173.6,267.6 182.9,271.7 192.9,275.5 203.8,279.0 215.4,282.3 228.1,285.3 241.7,288.0 256.4,290.6 272.2,293.0 289.3,295.2 307.8,297.3 327.8,299.2 349.3,300.9 372.6,302.6 397.7,304.1M85.8,24.7 87.8,44.5 90.0,62.9 92.4,80.1 94.9,96.2 97.6,111.3 100.5,125.3 103.6,138.4 106.9,150.6 110.4,162.0 114.2,172.7 118.3,182.7 122.7,192.0 127.3,200.6 132.3,208.8 137.7,216.3 143.4,223.4 149.6,230.0 156.1,236.2 163.2,241.9 170.7,247.3 178.8,252.3 187.5,257.0 196.7,261.4 206.6,265.5 217.3,269.3 228.6,272.8 240.8,276.2 253.9,279.3 267.8,282.2 282.8,284.9 298.8,287.4 316.0,289.8 334.4,292.0 354.0,294.0 375.1,296.0 397.7,297.8M93.0,24.7 95.3,42.7 97.8,59.7 100.4,75.6 103.3,90.5 106.2,104.6 109.4,117.8 112.8,130.2 116.4,141.8 120.2,152.8 124.3,163.1 128.6,172.8 133.2,181.8 138.1,190.4 143.4,198.4 148.9,205.9 154.9,213.0 161.2,219.7 167.9,225.9 175.0,231.8 182.6,237.3 190.7,242.5 199.3,247.3 208.4,251.9 218.2,256.2 228.6,260.3 239.6,264.1 251.4,267.6 263.9,271.0 277.2,274.1 291.4,277.1 306.4,279.9 322.5,282.5 339.6,284.9 357.8,287.2 377.1,289.4 397.7,291.4M100.2,24.7 102.8,41.3 105.5,57.0 108.4,71.8 111.4,85.8 114.6,99.0 118.0,111.5 121.6,123.2 125.4,134.4 129.5,144.9 133.8,154.8 138.3,164.1 143.1,173.0 148.2,181.3 153.6,189.2 159.3,196.7 165.3,203.7 171.7,210.4 178.5,216.6 185.6,222.6 193.2,228.1 201.2,233.4 209.8,238.4 218.8,243.1 228.3,247.6 238.4,251.8 249.1,255.7 260.4,259.5 272.4,263.0 285.1,266.4 298.6,269.5 312.8,272.5 327.9,275.3 343.9,278.0 360.8,280.5 378.7,282.9 397.7,285.1M107.5,24.7 110.2,40.1 113.1,54.7 116.2,68.5 119.4,81.7 122.8,94.1 126.4,106.0 130.2,117.2 134.2,127.8 138.4,137.9 142.8,147.4 147.5,156.5 152.4,165.1 157.6,173.2 163.1,181.0 168.9,188.3 175.0,195.2 181.4,201.8 188.2,208.1 195.3,214.0 202.9,219.7 210.8,225.0 219.2,230.1 228.0,234.9 237.3,239.4 247.2,243.7 257.5,247.8 268.4,251.7 279.9,255.4 292.1,258.9 304.9,262.2 318.4,265.3 332.6,268.3 347.6,271.1 363.4,273.8 380.1,276.4 397.7,278.8M114.7,24.7 117.6,39.0 120.7,52.7 123.9,65.7 127.3,78.1 130.9,89.9 134.6,101.1 138.5,111.7 142.6,121.9 147.0,131.6 151.5,140.8 156.3,149.5 161.3,157.9 166.6,165.8 172.2,173.4 178.0,180.6 184.1,187.4 190.5,194.0 197.3,200.2 204.4,206.1 211.8,211.7 219.6,217.1 227.9,222.1 236.5,227.0 245.6,231.6 255.1,236.0 265.1,240.2 275.6,244.2 286.7,248.0 298.3,251.6 310.5,255.0 323.3,258.3 336.7,261.4 350.9,264.4 365.7,267.2 381.3,269.9 397.7,272.4M121.9,24.7 125.0,38.1 128.2,50.9 131.6,63.2 135.1,74.8 138.8,86.0 142.6,96.7 146.6,106.8 150.9,116.6 155.3,125.8 159.9,134.7 164.8,143.2 169.9,151.3 175.2,159.0 180.8,166.4 186.6,173.4 192.7,180.1 199.1,186.6 205.8,192.7 212.8,198.6 220.1,204.2 227.8,209.5 235.9,214.6 244.3,219.5 253.1,224.1 262.4,228.6 272.0,232.8 282.2,236.9 292.8,240.8 303.9,244.5 315.5,248.0 327.7,251.4 340.4,254.6 353.8,257.7 367.7,260.6 382.4,263.4 397.7,266.1M129.2,24.7 132.3,37.3 135.7,49.3 139.1,60.9 142.8,71.9 146.5,82.5 150.5,92.7 154.6,102.4 158.9,111.7 163.4,120.6 168.1,129.1 173.0,137.3 178.1,145.1 183.4,152.6 189.0,159.8 194.8,166.7 200.9,173.3 207.2,179.6 213.8,185.7 220.7,191.4 228.0,197.0 235.5,202.3 243.4,207.4 251.6,212.3 260.1,217.0 269.1,221.4 278.4,225.7 288.2,229.8 298.3,233.7 309.0,237.5 320.1,241.1 331.7,244.6 343.8,247.9 356.4,251.1 369.6,254.1 383.3,257.0 397.7,259.8M136.4,24.7 139.7,36.5 143.1,47.9 146.6,58.8 150.3,69.2 154.2,79.3 158.2,89.0 162.4,98.2 166.8,107.1 171.3,115.7 176.0,123.9 180.9,131.8 186.0,139.4 191.4,146.7 196.9,153.7 202.7,160.4 208.7,166.8 215.0,173.0 221.5,178.9 228.3,184.7 235.4,190.1 242.7,195.4 250.4,200.5 258.4,205.3 266.7,210.0 275.3,214.5 284.4,218.8 293.7,222.9 303.5,226.9 313.7,230.7 324.3,234.3 335.3,237.9 346.8,241.2 358.8,244.5 371.2,247.6 384.2,250.6 397.7,253.5M143.6,24.7 147.0,35.8 150.5,46.5 154.1,56.9 157.9,66.8 161.8,76.3 165.8,85.5 170.1,94.4 174.4,102.9 179.0,111.1 183.7,119.0 188.6,126.7 193.8,134.0 199.1,141.0 204.6,147.8 210.3,154.4 216.2,160.7 222.4,166.7 228.8,172.5 235.5,178.2 242.4,183.6 249.6,188.8 257.1,193.8 264.8,198.6 272.9,203.2 281.2,207.7 289.9,212.0 299.0,216.1 308.3,220.1 318.1,224.0 328.2,227.7 338.7,231.2 349.6,234.7 361.0,238.0 372.8,241.1 385.0,244.2 397.7,247.1M150.8,24.7 154.3,35.2 157.8,45.3 161.5,55.1 165.3,64.5 169.3,73.6 173.4,82.4 177.6,90.8 182.0,99.0 186.6,106.9 191.3,114.5 196.2,121.8 201.3,128.9 206.5,135.7 212.0,142.3 217.6,148.6 223.5,154.8 229.5,160.7 235.8,166.4 242.4,171.9 249.1,177.2 256.1,182.3 263.4,187.3 270.9,192.1 278.7,196.7 286.8,201.1 295.2,205.4 303.8,209.5 312.8,213.5 322.2,217.4 331.8,221.1 341.9,224.7 352.2,228.1 363.0,231.5 374.2,234.7 385.7,237.8 397.7,240.8M158.1,24.7 161.5,34.6 165.1,44.2 168.9,53.4 172.7,62.4 176.7,71.0 180.8,79.4 185.0,87.4 189.4,95.3 194.0,102.8 198.7,110.1 203.5,117.2 208.6,124.0 213.8,130.6 219.2,137.0 224.7,143.2 230.5,149.1 236.4,154.9 242.6,160.5 249.0,165.9 255.6,171.1 262.4,176.1 269.4,181.0 276.7,185.7 284.3,190.3 292.1,194.7 300.1,198.9 308.5,203.0 317.1,207.0 326.0,210.9 335.3,214.6 344.8,218.2 354.7,221.7 364.9,225.0 375.5,228.3 386.4,231.4 397.7,234.5M165.3,24.7 168.8,34.0 172.4,43.1 176.2,51.9 180.0,60.4 184.0,68.6 188.1,76.5 192.4,84.3 196.7,91.7 201.3,99.0 205.9,106.0 210.7,112.8 215.7,119.4 220.8,125.8 226.1,131.9 231.6,137.9 237.3,143.7 243.1,149.3 249.1,154.8 255.3,160.0 261.7,165.1 268.4,170.1 275.2,174.9 282.3,179.5 289.5,184.0 297.1,188.4 304.8,192.6 312.8,196.7 321.1,200.6 329.7,204.5 338.5,208.2 347.6,211.8 357.0,215.3 366.7,218.6 376.7,221.9 387.0,225.1 397.7,228.1M172.5,24.7 176.1,33.5 179.7,42.1 183.4,50.4 187.3,58.5 191.3,66.3 195.4,73.9 199.6,81.2 203.9,88.4 208.4,95.3 213.0,102.1 217.8,108.6 222.7,115.0 227.7,121.1 233.0,127.1 238.3,132.9 243.8,138.5 249.5,144.0 255.4,149.3 261.5,154.4 267.7,159.4 274.1,164.2 280.8,168.9 287.6,173.5 294.6,177.9 301.8,182.2 309.3,186.4 317.0,190.4 324.9,194.3 333.1,198.1 341.5,201.8 350.2,205.4 359.1,208.9 368.3,212.3 377.8,215.5 387.6,218.7 397.7,221.8M179.8,24.7 183.3,33.0 186.9,41.1 190.7,49.0 194.5,56.7 198.5,64.1 202.5,71.3 206.7,78.4 211.0,85.2 215.5,91.9 220.0,98.3 224.7,104.6 229.5,110.7 234.5,116.6 239.6,122.4 244.9,128.0 250.3,133.5 255.8,138.8 261.5,143.9 267.4,148.9 273.5,153.8 279.7,158.5 286.1,163.1 292.7,167.6 299.5,171.9 306.4,176.1 313.6,180.2 321.0,184.2 328.6,188.1 336.4,191.9 344.4,195.5 352.7,199.1 361.2,202.6 369.9,205.9 378.9,209.2 388.2,212.4 397.7,215.5M187.0,24.7 190.5,32.6 194.1,40.2 197.9,47.7 201.7,55.0 205.6,62.0 209.6,68.9 213.8,75.6 218.0,82.2 222.4,88.5 226.9,94.7 231.5,100.8 236.2,106.6 241.1,112.3 246.1,117.9 251.2,123.3 256.5,128.6 261.9,133.7 267.5,138.7 273.2,143.6 279.0,148.3 285.1,152.9 291.2,157.4 297.6,161.8 304.1,166.0 310.8,170.2 317.7,174.2 324.8,178.2 332.0,182.0 339.5,185.7 347.2,189.3 355.0,192.9 363.1,196.3 371.4,199.6 379.9,202.9 388.7,206.1 397.7,209.2M194.2,24.7 197.7,32.1 201.3,39.4 205.0,46.5 208.8,53.4 212.7,60.1 216.7,66.6 220.8,73.0 225.0,79.3 229.3,85.3 233.7,91.3 238.2,97.0 242.8,102.7 247.6,108.2 252.5,113.5 257.5,118.8 262.6,123.9 267.8,128.8 273.2,133.7 278.8,138.4 284.4,143.0 290.3,147.5 296.2,151.9 302.3,156.1 308.6,160.3 315.1,164.3 321.7,168.3 328.4,172.2 335.4,175.9 342.5,179.6 349.8,183.2 357.3,186.7 365.0,190.1 372.8,193.4 380.9,196.6 389.2,199.8 397.7,202.8M201.4,24.7 204.9,31.7 208.5,38.6 212.2,45.3 215.9,51.8 219.7,58.2 223.7,64.4 227.7,70.5 231.8,76.5 236.0,82.3 240.3,87.9 244.8,93.5 249.3,98.9 253.9,104.2 258.7,109.3 263.5,114.3 268.5,119.3 273.6,124.1 278.9,128.7 284.2,133.3 289.7,137.8 295.3,142.1 301.0,146.4 306.9,150.6 313.0,154.6 319.1,158.6 325.5,162.5 331.9,166.2 338.6,169.9 345.4,173.5 352.3,177.1 359.4,180.5 366.7,183.8 374.2,187.1 381.8,190.3 389.7,193.4 397.7,196.5M208.7,24.7 212.1,31.3 215.7,37.8 219.3,44.1 223.0,50.3 226.7,56.4 230.6,62.3 234.5,68.1 238.6,73.8 242.7,79.3 246.9,84.7 251.2,90.0 255.7,95.2 260.2,100.3 264.8,105.2 269.5,110.1 274.3,114.8 279.3,119.4 284.3,123.9 289.5,128.4 294.8,132.7 300.2,136.9 305.7,141.1 311.4,145.1 317.2,149.1 323.1,152.9 329.1,156.7 335.3,160.4 341.6,164.0 348.1,167.5 354.7,171.0 361.5,174.4 368.4,177.7 375.5,180.9 382.7,184.1 390.1,187.2 397.7,190.2M215.9,24.7 219.3,31.0 222.8,37.1 226.3,43.1 230.0,48.9 233.7,54.7 237.5,60.3 241.3,65.8 245.3,71.2 249.3,76.5 253.4,81.6 257.6,86.7 261.9,91.6 266.3,96.5 270.8,101.2 275.4,105.9 280.0,110.4 284.8,114.9 289.7,119.3 294.7,123.5 299.8,127.7 305.0,131.8 310.3,135.8 315.7,139.7 321.2,143.6 326.9,147.3 332.7,151.0 338.6,154.6 344.6,158.1 350.7,161.6 357.0,165.0 363.5,168.3 370.0,171.5 376.7,174.7 383.6,177.8 390.6,180.9 397.7,183.8M223.1,24.7 226.5,30.6 229.9,36.4 233.4,42.0 236.9,47.6 240.6,53.0 244.3,58.3 248.0,63.6 251.9,68.7 255.8,73.7 259.8,78.6 263.9,83.5 268.1,88.2 272.3,92.8 276.7,97.4 281.1,101.8 285.6,106.2 290.2,110.5 294.9,114.7 299.7,118.8 304.6,122.8 309.6,126.8 314.7,130.6 319.9,134.4 325.2,138.2 330.6,141.8 336.1,145.4 341.7,148.9 347.4,152.3 353.3,155.7 359.3,159.0 365.4,162.3 371.6,165.4 377.9,168.5 384.4,171.6 391.0,174.6 397.7,177.5M230.4,24.7 233.6,30.2 237.0,35.7 240.4,41.0 243.9,46.3 247.4,51.4 251.0,56.5 254.7,61.4 258.5,66.3 262.3,71.0 266.2,75.7 270.1,80.3 274.2,84.8 278.3,89.3 282.5,93.6 286.7,97.9 291.1,102.1 295.5,106.2 300.0,110.2 304.6,114.1 309.3,118.0 314.1,121.8 319.0,125.6 323.9,129.2 329.0,132.8 334.2,136.4 339.4,139.9 344.8,143.3 350.2,146.6 355.8,149.9 361.4,153.1 367.2,156.3 373.1,159.4 379.1,162.4 385.2,165.4 391.4,168.3 397.7,171.2M237.6,24.7 240.8,29.9 244.1,35.0 247.4,40.1 250.8,45.0 254.2,49.9 257.7,54.6 261.3,59.3 265.0,63.9 268.7,68.5 272.4,72.9 276.3,77.3 280.2,81.6 284.1,85.8 288.2,89.9 292.3,94.0 296.5,98.0 300.7,101.9 305.1,105.8 309.5,109.6 314.0,113.3 318.5,117.0 323.2,120.6 327.9,124.1 332.7,127.6 337.6,131.0 342.6,134.4 347.7,137.7 352.9,140.9 358.1,144.1 363.5,147.2 369.0,150.3 374.5,153.3 380.1,156.3 385.9,159.2 391.7,162.0 397.7,164.9M244.8,24.7 248.0,29.6 251.1,34.4 254.4,39.1 257.7,43.8 261.0,48.4 264.4,52.9 267.9,57.3 271.4,61.7 275.0,66.0 278.6,70.2 282.3,74.3 286.1,78.4 289.9,82.4 293.8,86.4 297.7,90.2 301.7,94.1 305.8,97.8 310.0,101.5 314.2,105.1 318.5,108.7 322.8,112.2 327.3,115.7 331.8,119.1 336.4,122.4 341.0,125.7 345.8,128.9 350.6,132.1 355.5,135.3 360.5,138.3 365.5,141.4 370.7,144.4 375.9,147.3 381.2,150.2 386.6,153.0 392.1,155.8 397.7,158.5M252.1,24.7 255.1,29.3 258.2,33.8 261.3,38.2 264.5,42.6 267.8,46.9 271.1,51.2 274.4,55.3 277.8,59.5 281.2,63.5 284.7,67.5 288.3,71.4 291.9,75.3 295.6,79.1 299.3,82.9 303.1,86.5 306.9,90.2 310.8,93.8 314.8,97.3 318.8,100.7 322.9,104.2 327.1,107.5 331.3,110.8 335.6,114.1 339.9,117.3 344.3,120.5 348.8,123.6 353.4,126.7 358.0,129.7 362.7,132.6 367.5,135.6 372.3,138.4 377.2,141.3 382.2,144.1 387.3,146.8 392.5,149.5 397.7,152.2M259.3,24.7 262.2,29.0 265.2,33.2 268.3,37.4 271.3,41.5 274.5,45.5 277.6,49.5 280.9,53.5 284.1,57.3 287.4,61.1 290.8,64.9 294.2,68.6 297.7,72.3 301.2,75.9 304.7,79.4 308.4,82.9 312.0,86.4 315.7,89.8 319.5,93.1 323.4,96.4 327.2,99.7 331.2,102.9 335.2,106.1 339.2,109.2 343.4,112.3 347.5,115.3 351.8,118.3 356.1,121.2 360.4,124.1 364.9,127.0 369.3,129.8 373.9,132.6 378.5,135.3 383.2,138.0 388.0,140.7 392.8,143.3 397.7,145.9M266.5,24.7 269.4,28.7 272.2,32.6 275.2,36.5 278.1,40.4 281.1,44.2 284.2,47.9 287.3,51.6 290.4,55.2 293.6,58.8 296.8,62.4 300.1,65.9 303.4,69.3 306.7,72.7 310.1,76.1 313.6,79.4 317.1,82.7 320.6,85.9 324.2,89.1 327.8,92.2 331.5,95.3 335.2,98.4 339.0,101.4 342.8,104.3 346.7,107.3 350.7,110.2 354.7,113.0 358.7,115.8 362.8,118.6 367.0,121.4 371.2,124.1 375.5,126.7 379.8,129.4 384.2,132.0 388.6,134.5 393.1,137.1 397.7,139.5M273.7,24.7 276.5,28.4 279.3,32.1 282.1,35.7 284.9,39.3 287.8,42.9 290.7,46.4 293.7,49.8 296.7,53.2 299.7,56.6 302.8,59.9 305.9,63.2 309.0,66.4 312.2,69.6 315.4,72.8 318.7,75.9 322.0,79.0 325.4,82.1 328.7,85.1 332.2,88.0 335.7,91.0 339.2,93.9 342.7,96.7 346.4,99.6 350.0,102.3 353.7,105.1 357.5,107.8 361.3,110.5 365.1,113.2 369.0,115.8 373.0,118.4 377.0,120.9 381.0,123.4 385.1,125.9 389.2,128.4 393.4,130.8 397.7,133.2M281.0,24.7 283.6,28.2 286.2,31.6 288.9,34.9 291.7,38.3 294.4,41.6 297.2,44.8 300.0,48.1 302.9,51.2 305.7,54.4 308.6,57.5 311.6,60.6 314.6,63.6 317.6,66.6 320.7,69.6 323.7,72.5 326.9,75.4 330.0,78.3 333.2,81.1 336.5,83.9 339.8,86.7 343.1,89.4 346.4,92.1 349.8,94.8 353.2,97.5 356.7,100.1 360.2,102.7 363.8,105.2 367.4,107.7 371.0,110.2 374.7,112.7 378.4,115.1 382.2,117.5 386.0,119.9 389.9,122.3 393.8,124.6 397.7,126.9M288.2,24.7 290.7,27.9 293.2,31.1 295.8,34.2 298.4,37.3 301.0,40.3 303.6,43.4 306.3,46.4 309.0,49.3 311.7,52.3 314.5,55.2 317.3,58.0 320.1,60.9 322.9,63.7 325.8,66.4 328.7,69.2 331.7,71.9 334.7,74.6 337.7,77.3 340.7,79.9 343.8,82.5 346.9,85.1 350.0,87.6 353.2,90.1 356.4,92.6 359.6,95.1 362.9,97.5 366.2,100.0 369.6,102.3 373.0,104.7 376.4,107.0 379.8,109.4 383.3,111.7 386.9,113.9 390.4,116.2 394.1,118.4 397.7,120.6M295.4,24.7 297.8,27.6 300.2,30.6 302.6,33.4 305.1,36.3 307.5,39.1 310.0,41.9 312.6,44.7 315.1,47.4 317.7,50.2 320.3,52.9 322.9,55.5 325.6,58.2 328.2,60.8 330.9,63.4 333.7,65.9 336.4,68.5 339.2,71.0 342.0,73.4 344.9,75.9 347.7,78.3 350.6,80.8 353.5,83.2 356.5,85.5 359.5,87.9 362.5,90.2 365.5,92.5 368.6,94.7 371.7,97.0 374.9,99.2 378.0,101.4 381.2,103.6 384.5,105.8 387.7,107.9 391.0,110.1 394.3,112.2 397.7,114.2M302.7,24.7 304.9,27.4 307.2,30.1 309.4,32.7 311.7,35.3 314.1,37.9 316.4,40.5 318.8,43.1 321.2,45.6 323.6,48.1 326.0,50.6 328.5,53.1 331.0,55.5 333.5,57.9 336.0,60.3 338.5,62.7 341.1,65.1 343.7,67.4 346.3,69.7 348.9,72.0 351.6,74.3 354.3,76.5 357.0,78.7 359.7,80.9 362.5,83.1 365.3,85.3 368.1,87.5 371.0,89.6 373.8,91.7 376.7,93.8 379.6,95.9 382.6,97.9 385.5,99.9 388.5,102.0 391.6,104.0 394.6,105.9 397.7,107.9M309.9,24.7 312.0,27.2 314.1,29.6 316.2,32.0 318.4,34.4 320.6,36.8 322.8,39.2 325.0,41.5 327.2,43.8 329.4,46.1 331.7,48.4 334.0,50.7 336.3,52.9 338.6,55.1 341.0,57.3 343.3,59.5 345.7,61.7 348.1,63.9 350.5,66.0 353.0,68.1 355.4,70.2 357.9,72.3 360.4,74.4 362.9,76.4 365.5,78.4 368.0,80.5 370.6,82.5 373.2,84.4 375.9,86.4 378.5,88.4 381.2,90.3 383.9,92.2 386.6,94.1 389.3,96.0 392.1,97.9 394.9,99.7 397.7,101.6M317.1,24.7 319.1,26.9 321.0,29.1 323.0,31.3 325.0,33.5 327.0,35.7 329.1,37.8 331.1,39.9 333.2,42.1 335.3,44.2 337.4,46.2 339.5,48.3 341.6,50.4 343.7,52.4 345.9,54.4 348.1,56.4 350.3,58.4 352.5,60.4 354.7,62.3 356.9,64.3 359.2,66.2 361.5,68.1 363.8,70.0 366.1,71.9 368.4,73.8 370.7,75.7 373.1,77.5 375.5,79.4 377.9,81.2 380.3,83.0 382.7,84.8 385.2,86.6 387.6,88.3 390.1,90.1 392.6,91.8 395.2,93.5 397.7,95.2M324.3,24.7 326.1,26.7 328.0,28.7 329.8,30.7 331.6,32.6 333.5,34.6 335.4,36.5 337.2,38.4 339.1,40.3 341.0,42.2 343.0,44.1 344.9,46.0 346.8,47.9 348.8,49.7 350.8,51.5 352.8,53.4 354.8,55.2 356.8,57.0 358.8,58.8 360.8,60.5 362.9,62.3 365.0,64.0 367.0,65.8 369.1,67.5 371.2,69.2 373.4,70.9 375.5,72.6 377.7,74.3 379.8,76.0 382.0,77.6 384.2,79.3 386.4,80.9 388.6,82.5 390.9,84.1 393.1,85.7 395.4,87.3 397.7,88.9M331.6,24.7 333.2,26.5 334.9,28.3 336.6,30.0 338.2,31.8 339.9,33.5 341.6,35.2 343.3,37.0 345.1,38.7 346.8,40.4 348.5,42.1 350.3,43.7 352.0,45.4 353.8,47.1 355.6,48.7 357.4,50.3 359.2,52.0 361.0,53.6 362.9,55.2 364.7,56.8 366.5,58.4 368.4,60.0 370.3,61.5 372.2,63.1 374.1,64.7 376.0,66.2 377.9,67.7 379.8,69.3 381.7,70.8 383.7,72.3 385.7,73.8 387.6,75.3 389.6,76.8 391.6,78.2 393.6,79.7 395.7,81.1 397.7,82.6M338.8,24.7 340.3,26.3 341.8,27.8 343.3,29.4 344.8,30.9 346.3,32.5 347.9,34.0 349.4,35.5 350.9,37.0 352.5,38.5 354.1,40.0 355.6,41.5 357.2,43.0 358.8,44.5 360.4,45.9 362.0,47.4 363.6,48.8 365.2,50.3 366.9,51.7 368.5,53.1 370.1,54.5 371.8,56.0 373.5,57.4 375.1,58.8 376.8,60.2 378.5,61.5 380.2,62.9 381.9,64.3 383.6,65.6 385.4,67.0 387.1,68.3 388.8,69.7 390.6,71.0 392.4,72.3 394.1,73.6 395.9,75.0 397.7,76.3M346.0,24.7 347.3,26.1 348.7,27.4 350.0,28.8 351.4,30.1 352.7,31.4 354.1,32.8 355.4,34.1 356.8,35.4 358.2,36.7 359.5,38.0 360.9,39.3 362.3,40.6 363.7,41.9 365.1,43.2 366.5,44.5 367.9,45.7 369.4,47.0 370.8,48.2 372.2,49.5 373.7,50.7 375.1,52.0 376.6,53.2 378.1,54.5 379.5,55.7 381.0,56.9 382.5,58.1 384.0,59.3 385.5,60.5 387.0,61.7 388.5,62.9 390.0,64.1 391.5,65.3 393.1,66.4 394.6,67.6 396.1,68.8 397.7,69.9M353.3,24.7 354.4,25.9 355.6,27.0 356.7,28.2 357.9,29.3 359.1,30.4 360.2,31.6 361.4,32.7 362.6,33.8 363.8,34.9 365.0,36.1 366.2,37.2 367.4,38.3 368.6,39.4 369.8,40.5 371.0,41.6 372.2,42.7 373.5,43.8 374.7,44.8 375.9,45.9 377.2,47.0 378.4,48.1 379.7,49.1 380.9,50.2 382.2,51.2 383.5,52.3 384.7,53.3 386.0,54.4 387.3,55.4 388.6,56.5 389.9,57.5 391.1,58.5 392.4,59.5 393.8,60.6 395.1,61.6 396.4,62.6 397.7,63.6M360.5,24.7 361.5,25.7 362.4,26.6 363.4,27.6 364.4,28.5 365.4,29.5 366.4,30.4 367.4,31.3 368.4,32.3 369.4,33.2 370.4,34.1 371.4,35.1 372.4,36.0 373.4,36.9 374.4,37.8 375.5,38.7 376.5,39.6 377.5,40.6 378.6,41.5 379.6,42.4 380.6,43.3 381.7,44.2 382.7,45.1 383.8,45.9 384.8,46.8 385.9,47.7 386.9,48.6 388.0,49.5 389.1,50.4 390.1,51.2 391.2,52.1 392.3,53.0 393.3,53.8 394.4,54.7 395.5,55.6 396.6,56.4 397.7,57.3M367.7,24.7 368.5,25.5 369.3,26.2 370.1,27.0 370.9,27.7 371.7,28.5 372.5,29.2 373.3,30.0 374.1,30.7 375.0,31.5 375.8,32.2 376.6,33.0 377.4,33.7 378.2,34.5 379.0,35.2 379.9,35.9 380.7,36.7 381.5,37.4 382.4,38.1 383.2,38.9 384.0,39.6 384.9,40.3 385.7,41.0 386.6,41.7 387.4,42.5 388.2,43.2 389.1,43.9 389.9,44.6 390.8,45.3 391.7,46.0 392.5,46.7 393.4,47.4 394.2,48.2 395.1,48.9 396.0,49.6 396.8,50.3 397.7,51.0M374.9,24.7 375.6,25.3 376.2,25.8 376.8,26.4 377.4,27.0 378.0,27.6 378.6,28.1 379.2,28.7 379.9,29.2 380.5,29.8 381.1,30.4 381.7,30.9 382.4,31.5 383.0,32.1 383.6,32.6 384.2,33.2 384.9,33.7 385.5,34.3 386.1,34.8 386.8,35.4 387.4,35.9 388.0,36.5 388.7,37.0 389.3,37.6 389.9,38.1 390.6,38.7 391.2,39.2 391.9,39.8 392.5,40.3 393.2,40.9 393.8,41.4 394.4,41.9 395.1,42.5 395.7,43.0 396.4,43.6 397.0,44.1 397.7,44.6M382.2,24.7 382.6,25.1 383.0,25.5 383.4,25.9 383.9,26.2 384.3,26.6 384.7,27.0 385.1,27.4 385.6,27.8 386.0,28.2 386.4,28.5 386.8,28.9 387.3,29.3 387.7,29.7 388.1,30.1 388.6,30.4 389.0,30.8 389.4,31.2 389.8,31.6 390.3,32.0 390.7,32.3 391.1,32.7 391.6,33.1 392.0,33.5 392.4,33.8 392.9,34.2 393.3,34.6 393.7,35.0 394.2,35.3 394.6,35.7 395.1,36.1 395.5,36.4 395.9,36.8 396.4,37.2 396.8,37.6 397.3,37.9 397.7,38.3M389.4,24.7 389.6,24.9 389.9,25.1 390.1,25.3 390.3,25.5 390.5,25.7 390.8,25.9 391.0,26.1 391.2,26.3 391.5,26.5 391.7,26.7 391.9,26.9 392.1,27.1 392.4,27.3 392.6,27.5 392.8,27.7 393.1,28.0 393.3,28.2 393.5,28.4 393.8,28.6 394.0,28.8 394.2,29.0 394.4,29.2 394.7,29.4 394.9,29.6 395.1,29.8 395.4,30.0 395.6,30.2 395.8,30.4 396.1,30.6 396.3,30.8 396.5,31.0 396.8,31.2 397.0,31.4 397.2,31.6 397.5,31.8 397.7,32.0M396.6,24.7 396.7,24.7 396.7,24.8 396.7,24.8 396.7,24.8 396.8,24.8 396.8,24.9 396.8,24.9 396.9,24.9 396.9,24.9 396.9,25.0 397.0,25.0 397.0,25.0 397.0,25.0 397.0,25.1 397.1,25.1 397.1,25.1 397.1,25.1 397.2,25.2 397.2,25.2 397.2,25.2 397.3,25.2 397.3,25.3 397.3,25.3 397.3,25.3 397.4,25.4 397.4,25.4 397.4,25.4 397.5,25.4 397.5,25.5 397.5,25.5 397.6,25.5 397.6,25.5 397.6,25.6 397.6,25.6 397.7,25.6 397.7,25.6" fill="none" stroke="#000" stroke-width="0.85"/>
<rect x="60.2" y="24.7" width="337.5" height="295.4" fill="none" stroke="#000" stroke-width="1.1"/>
<path d="M60.2,320.1v6.2M88.3,320.1v3.6M116.5,320.1v6.2M144.6,320.1v3.6M172.7,320.1v6.2M200.8,320.1v3.6M228.9,320.1v6.2M257.1,320.1v3.6M285.2,320.1v6.2M313.3,320.1v3.6M341.4,320.1v6.2M369.6,320.1v3.6M397.7,320.1v6.2M60.2,320.1h-6.2M60.2,295.5h-3.6M60.2,270.9h-6.2M60.2,246.3h-3.6M60.2,221.7h-6.2M60.2,197.0h-3.6M60.2,172.4h-6.2M60.2,147.8h-3.6M60.2,123.2h-6.2M60.2,98.6h-3.6M60.2,73.9h-6.2M60.2,49.3h-3.6M60.2,24.7h-6.2" stroke="#000" stroke-width="1.1" fill="none"/>
<g font-size="12.3px" text-anchor="middle">
<text x="60.2" y="339.3">0.0</text>
<text x="116.5" y="339.3">0.5</text>
<text x="172.7" y="339.3">1.0</text>
<text x="228.9" y="339.3">1.5</text>
<text x="285.2" y="339.3">2.0</text>
<text x="341.4" y="339.3">2.5</text>
<text x="397.7" y="339.3">3.0</text>
</g>
<g font-size="12.3px" text-anchor="end">
<text x="49.9" y="322.4">0</text>
<text x="49.9" y="273.2">50</text>
<text x="49.9" y="224.0">100</text>
<text x="49.9" y="174.7">150</text>
<text x="49.9" y="125.5">200</text>
<text x="49.9" y="76.2">250</text>
<text x="49.9" y="27.0">300</text>
</g>
<g class="b" font-size="14.2px">
<text x="116.5" y="369.2" textLength="78.6" lengthAdjust="spacingAndGlyphs">Temperature</text>
<text x="200.5" y="369.2" textLength="74.9" lengthAdjust="spacingAndGlyphs">difference,</text>
<text x="280.4" y="369.2" textLength="17.7" lengthAdjust="spacingAndGlyphs">ΔT</text>
<text x="299.3" y="375.1" textLength="18" lengthAdjust="spacingAndGlyphs">RS</text>
<text x="322.6" y="368.8" font-size="13.8px" textLength="19.1" lengthAdjust="spacingAndGlyphs">(K)</text>
</g>
<g class="b" font-size="14.2px" transform="translate(19 230.5) rotate(-90)">
<text x="0" y="0" textLength="81.1" lengthAdjust="spacingAndGlyphs">Flow-rate (L s</text>
<text x="81.8" y="-9.1" font-size="8px">-1</text>
<text x="88" y="-0.8" textLength="3.9" lengthAdjust="spacingAndGlyphs">)</text>
</g>
<g shape-rendering="crispEdges">
<rect x="445.2" y="22.20" width="40.6" height="6.13" fill="#000"/>
<rect x="445.2" y="28.03" width="40.6" height="6.13" fill="#0000ff"/>
<rect x="445.2" y="33.85" width="40.6" height="6.13" fill="#0015ff"/>
<rect x="445.2" y="39.68" width="40.6" height="6.13" fill="#002aff"/>
<rect x="445.2" y="45.50" width="40.6" height="6.13" fill="#003eff"/>
<rect x="445.2" y="51.33" width="40.6" height="6.13" fill="#0053ff"/>
<rect x="445.2" y="57.15" width="40.6" height="6.13" fill="#0068ff"/>
<rect x="445.2" y="62.98" width="40.6" height="6.13" fill="#007dff"/>
<rect x="445.2" y="68.80" width="40.6" height="6.13" fill="#0092ff"/>
<rect x="445.2" y="74.63" width="40.6" height="6.13" fill="#00a7ff"/>
<rect x="445.2" y="80.45" width="40.6" height="6.13" fill="#00bbff"/>
<rect x="445.2" y="86.28" width="40.6" height="6.13" fill="#00d0ff"/>
<rect x="445.2" y="92.11" width="40.6" height="6.13" fill="#00e5ff"/>
<rect x="445.2" y="97.93" width="40.6" height="6.13" fill="#00faff"/>
<rect x="445.2" y="103.76" width="40.6" height="6.13" fill="#00ffef"/>
<rect x="445.2" y="109.58" width="40.6" height="6.13" fill="#00ffdb"/>
<rect x="445.2" y="115.41" width="40.6" height="6.13" fill="#00ffc6"/>
<rect x="445.2" y="121.23" width="40.6" height="6.13" fill="#00ffb1"/>
<rect x="445.2" y="127.06" width="40.6" height="6.13" fill="#00ff9c"/>
<rect x="445.2" y="132.88" width="40.6" height="6.13" fill="#00ff87"/>
<rect x="445.2" y="138.71" width="40.6" height="6.13" fill="#00ff72"/>
<rect x="445.2" y="144.54" width="40.6" height="6.13" fill="#00ff5e"/>
<rect x="445.2" y="150.36" width="40.6" height="6.13" fill="#00ff49"/>
<rect x="445.2" y="156.19" width="40.6" height="6.13" fill="#00ff34"/>
<rect x="445.2" y="162.01" width="40.6" height="6.13" fill="#00ff1f"/>
<rect x="445.2" y="167.84" width="40.6" height="6.13" fill="#00ff0a"/>
<rect x="445.2" y="173.66" width="40.6" height="6.13" fill="#0aff00"/>
<rect x="445.2" y="179.49" width="40.6" height="6.13" fill="#1fff00"/>
<rect x="445.2" y="185.31" width="40.6" height="6.13" fill="#34ff00"/>
<rect x="445.2" y="191.14" width="40.6" height="6.13" fill="#49ff00"/>
<rect x="445.2" y="196.96" width="40.6" height="6.13" fill="#5eff00"/>
<rect x="445.2" y="202.79" width="40.6" height="6.13" fill="#72ff00"/>
<rect x="445.2" y="208.62" width="40.6" height="6.13" fill="#87ff00"/>
<rect x="445.2" y="214.44" width="40.6" height="6.13" fill="#9cff00"/>
<rect x="445.2" y="220.27" width="40.6" height="6.13" fill="#b1ff00"/>
<rect x="445.2" y="226.09" width="40.6" height="6.13" fill="#c6ff00"/>
<rect x="445.2" y="231.92" width="40.6" height="6.13" fill="#dbff00"/>
<rect x="445.2" y="237.74" width="40.6" height="6.13" fill="#efff00"/>
<rect x="445.2" y="243.57" width="40.6" height="6.13" fill="#fffa00"/>
<rect x="445.2" y="249.39" width="40.6" height="6.13" fill="#ffe500"/>
<rect x="445.2" y="255.22" width="40.6" height="6.13" fill="#ffd000"/>
<rect x="445.2" y="261.05" width="40.6" height="6.13" fill="#ffbb00"/>
<rect x="445.2" y="266.87" width="40.6" height="6.13" fill="#ffa700"/>
<rect x="445.2" y="272.70" width="40.6" height="6.13" fill="#ff9200"/>
<rect x="445.2" y="278.52" width="40.6" height="6.13" fill="#ff7d00"/>
<rect x="445.2" y="284.35" width="40.6" height="6.13" fill="#ff6800"/>
<rect x="445.2" y="290.17" width="40.6" height="6.13" fill="#ff5300"/>
<rect x="445.2" y="296.00" width="40.6" height="6.13" fill="#ff3e00"/>
<rect x="445.2" y="301.82" width="40.6" height="6.13" fill="#ff2a00"/>
<rect x="445.2" y="307.65" width="40.6" height="6.13" fill="#ff1500"/>
<rect x="445.2" y="313.47" width="40.6" height="5.83" fill="#ff0000"/>
</g>
<text class="b" font-size="13.4px" x="410.2" y="15.6" textLength="117.3" lengthAdjust="spacingAndGlyphs">Heat potential (kW)</text>
<g font-size="12px">
<text x="492.2" y="33.1">0.000</text>
<text x="492.2" y="91.4">9000</text>
<text x="492.2" y="149.6">1.800E+04</text>
<text x="492.2" y="207.9">2.700E+04</text>
<text x="492.2" y="266.1">3.600E+04</text>
<text x="492.2" y="324.4">4.500E+04</text>
</g>
</svg></body></html>
